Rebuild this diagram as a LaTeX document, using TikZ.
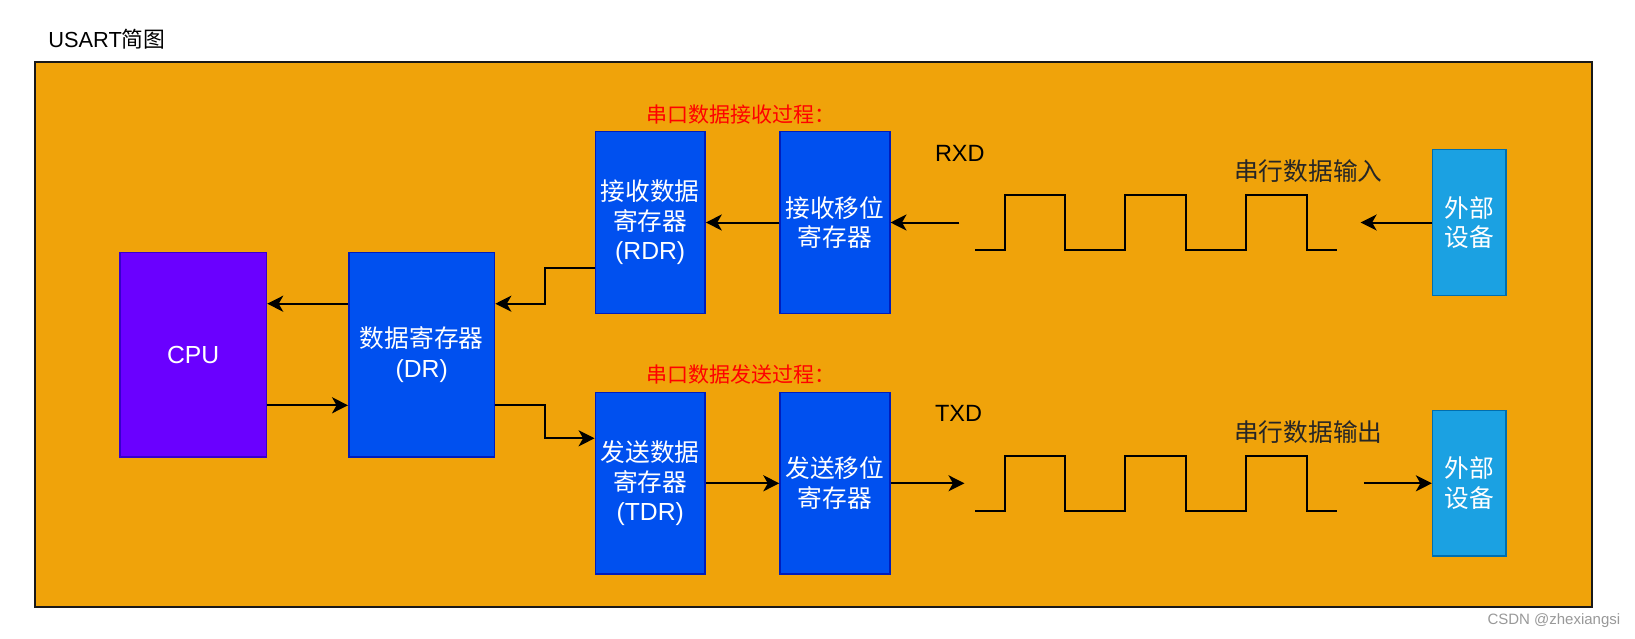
\documentclass[tikz,border=0pt]{standalone}
\usepackage{fontspec}
\setmainfont{Liberation Sans}
\newfontfamily\cjk{Noto Sans CJK SC}
\usetikzlibrary{arrows.meta}
\definecolor{bgorange}{HTML}{F0A30A}
\definecolor{violetfill}{HTML}{6A00FF}
\definecolor{violetline}{HTML}{3700CC}
\definecolor{cobaltfill}{HTML}{0050EF}
\definecolor{cobaltline}{HTML}{001DBC}
\definecolor{skyfill}{HTML}{1BA1E2}
\definecolor{skyline}{HTML}{006EAF}
\definecolor{redtxt}{HTML}{FF0000}
\definecolor{graytxt}{HTML}{999999}
\tikzset{
  boxfont/.style={font=\fontsize{24.7}{29.6}\selectfont, text=white, align=center},
  cpubox/.style={boxfont, draw=violetline, fill=violetfill, line width=1.5pt, minimum width=146.5pt, minimum height=204.3pt, inner sep=0pt},
  regbox/.style={boxfont, draw=cobaltline, fill=cobaltfill, line width=1.5pt, minimum width=109.7pt, minimum height=181.6pt, inner sep=0pt},
  drbox/.style={regbox, minimum width=145.8pt, minimum height=204.3pt},
  extbox/.style={boxfont, draw=skyline, fill=skyfill, line width=1.5pt, minimum width=73.4pt, minimum height=145.7pt, inner sep=0pt},
  arr/.style={draw=black, line width=2pt, -{Stealth[length=16pt,width=16pt,inset=4.5pt]}},
  wave/.style={draw=black, line width=2pt, line join=miter},
  lbl/.style={anchor=west, inner sep=0pt, font=\fontsize{23.5}{28}\selectfont, text=black},
  redlbl/.style={anchor=west, inner sep=0pt, font=\fontsize{21}{25}\selectfont, text=redtxt},
}
\begin{document}
\begin{tikzpicture}[x=1pt,y=-1pt]
\useasboundingbox (0,0) rectangle (1635,639);
\fill[white] (0,0) rectangle (1635,639);
% container
\draw[fill=bgorange, draw=black!90, line width=2pt] (34.6,61.7) rectangle (1592,607);
\node[anchor=west, inner sep=0pt, font=\fontsize{21.8}{26}\selectfont, text=black] (title) at (48.2,39.5) {USART{\cjk 简图}};

% blocks
\node[cpubox] (cpu) at (193.2,354.8) {CPU};
\node[drbox] (dr) at (421.7,354.8) {{\cjk 数据寄存器}\\(DR)};
\node[regbox] (rdr) at (650.2,222.5) {{\cjk 接收数据}\\{\cjk 寄存器}\\(RDR)};
\node[regbox] (rsr) at (834.9,222.5) {{\cjk 接收移位}\\{\cjk 寄存器}};
\node[regbox] (tdr) at (650.2,483.3) {{\cjk 发送数据}\\{\cjk 寄存器}\\(TDR)};
\node[regbox] (tsr) at (834.9,483.3) {{\cjk 发送移位}\\{\cjk 寄存器}};
\node[extbox] (ext1) at (1469.3,222.5) {{\cjk 外部}\\{\cjk 设备}};
\node[extbox] (ext2) at (1469.3,483.3) {{\cjk 外部}\\{\cjk 设备}};

% labels
\node[redlbl] (rxtitle) at (646.7,114.8) {\cjk 串口数据接收过程：};
\node[redlbl] (txtitle) at (646.7,374.8) {\cjk 串口数据发送过程：};
\node[lbl] (rxd) at (934.8,153.3) {RXD};
\node[lbl] (txd) at (934.8,413) {TXD};
\node[lbl, font=\fontsize{24.7}{29}\selectfont\cjk, text=black!85] (rxin) at (1234,170.7) {串行数据输入};
\node[lbl, font=\fontsize{24.7}{29}\selectfont\cjk, text=black!85] (txout) at (1234,431.7) {串行数据输出};
\node[anchor=west, inner sep=0pt, font=\fontsize{15}{18}\selectfont, text=graytxt] (csdn) at (1487.3,621) {CSDN @zhexiangsi};

% connector end coordinates
\coordinate (rxwavein) at (1360.6,222.5);
\coordinate (rxwaveout) at (959.3,222.5);
\coordinate (txwavein) at (964.5,483.3);
\coordinate (txwaveout) at (1363.8,483.3);

% receive path
\draw[arr] (ext1.west) -- (rxwavein);
\draw[arr] (rxwaveout) -- (rsr.east);
\draw[arr] (rsr.west) -- (rdr.east);
\draw[arr] ([yshift=-45.2pt]rdr.west) -| (545,285.7) |- ([yshift=51.1pt]dr.east);
\draw[arr] ([yshift=51.1pt]dr.west) -- ([yshift=51.1pt]cpu.east);

% transmit path
\draw[arr] ([yshift=-50.5pt]cpu.east) -- ([yshift=-50.5pt]dr.west);
\draw[arr] ([yshift=-50.5pt]dr.east) -| (545,420) |- ([yshift=45pt]tdr.west);
\draw[arr] (tdr.east) -- (tsr.west);
\draw[arr] (tsr.east) -- (txwavein);
\draw[arr] (txwaveout) -- (ext2.west);

% square waves
\draw[wave] (975,249.7) -- (1004.8,249.7) -- (1004.8,195.3) -- (1065.3,195.3) -- (1065.3,249.7)
  -- (1125.4,249.7) -- (1125.4,195.3) -- (1185.9,195.3) -- (1185.9,249.7)
  -- (1246.4,249.7) -- (1246.4,195.3) -- (1306.9,195.3) -- (1306.9,249.7) -- (1337,249.7);
\draw[wave] (975,510.7) -- (1004.8,510.7) -- (1004.8,456.3) -- (1065.3,456.3) -- (1065.3,510.7)
  -- (1125.4,510.7) -- (1125.4,456.3) -- (1185.9,456.3) -- (1185.9,510.7)
  -- (1246.4,510.7) -- (1246.4,456.3) -- (1306.9,456.3) -- (1306.9,510.7) -- (1337,510.7);
\end{tikzpicture}
\end{document}
